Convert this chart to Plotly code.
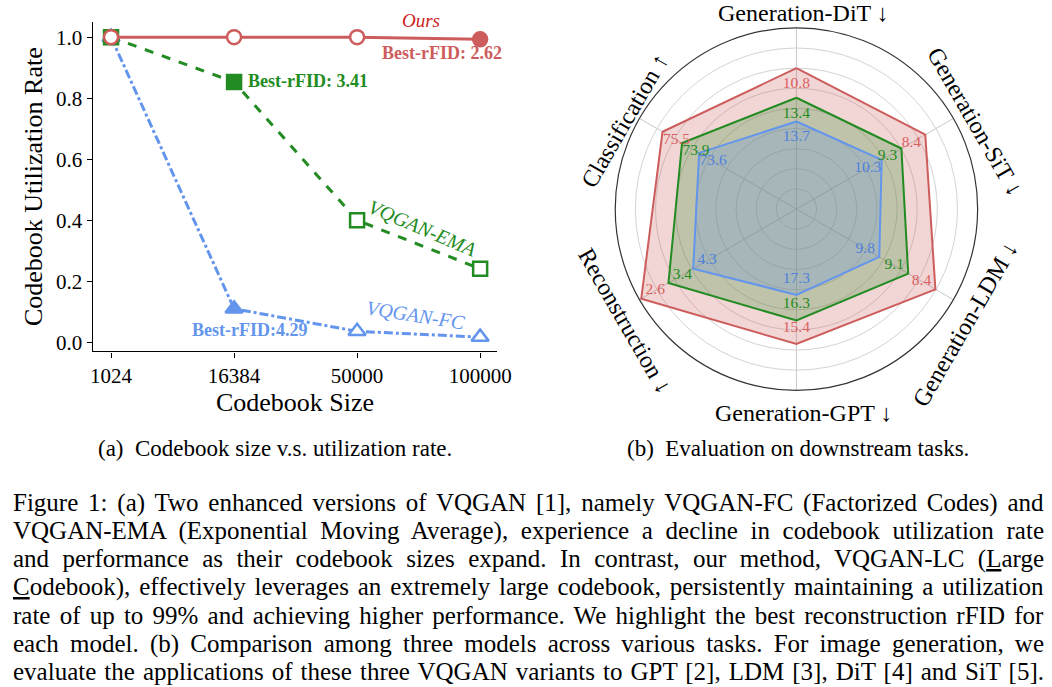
import json
import plotly.graph_objects as go

W, H = 1052, 687

# ---------------- data: (a) codebook utilisation ----------------
codebook_sizes = ["1024", "16384", "50000", "100000"]
util_ours = [1.0, 1.0, 1.0, 0.993]
util_ema = [1.0, 0.853, 0.40, 0.241]
util_fc = [1.0, 0.11, 0.036, 0.017]
yticks = [0.0, 0.2, 0.4, 0.6, 0.8, 1.0]

# ---------------- data: (b) radar ----------------
tasks = ["Generation-DiT ↓", "Generation-SiT ↓", "Generation-LDM ↓",
         "Generation-GPT ↓", "Reconstruction ↓", "Classification ↑"]
score_ours = [7.0, 7.39, 7.97, 6.70, 8.90, 7.68]
score_ema = [5.53, 6.02, 6.41, 5.53, 7.34, 6.56]
score_fc = [4.35, 4.89, 4.75, 4.26, 5.92, 5.58]
label_ours = ["10.8", "8.4", "8.4", "15.4", "2.6", "75.5"]
label_ema = ["13.4", "9.3", "9.1", "16.3", "3.4", "73.9"]
label_fc = ["13.7", "10.3", "9.8", "17.3", "4.3", "73.6"]

RED = "#cd5c5c"
GREEN = "#228b22"
BLUE = "#6495ed"
SERIF = "Liberation Serif, Times New Roman, serif"


def px(x):
    return x / W


def py(y):
    return 1 - y / H


fig = go.Figure()

# ---- left panel ----
fig.add_trace(go.Scatter(
    x=codebook_sizes, y=util_fc, mode="lines+markers",
    line=dict(color=BLUE, width=3, dash="dashdot"),
    marker=dict(symbol="triangle-up", size=15,
                color=["white", BLUE, "white", "white"],
                line=dict(color=BLUE, width=2.5)),
    xaxis="x", yaxis="y", showlegend=False, hoverinfo="skip"))
fig.add_trace(go.Scatter(
    x=codebook_sizes, y=util_ema, mode="lines+markers",
    line=dict(color=GREEN, width=3, dash="dash"),
    marker=dict(symbol="square", size=14,
                color=[GREEN, GREEN, "white", "white"],
                line=dict(color=GREEN, width=2.5)),
    xaxis="x", yaxis="y", showlegend=False, hoverinfo="skip"))
fig.add_trace(go.Scatter(
    x=codebook_sizes, y=util_ours, mode="lines+markers",
    line=dict(color=RED, width=3),
    marker=dict(symbol="circle", size=14,
                color=["white", "white", "white", RED],
                line=dict(color=RED, width=2.5)),
    xaxis="x", yaxis="y", showlegend=False, hoverinfo="skip"))

# ---- right panel: radar ----
def closed(v):
    return list(v) + [v[0]]


for scores, col, fill in [
        (score_ours, RED, "rgba(205,92,92,0.25)"),
        (score_ema, GREEN, "rgba(34,139,34,0.25)"),
        (score_fc, BLUE, "rgba(100,149,237,0.25)")]:
    fig.add_trace(go.Scatterpolar(
        r=closed(scores), theta=closed(tasks), mode="lines",
        line=dict(color=col, width=2), fill="toself", fillcolor=fill,
        showlegend=False, hoverinfo="skip"))
for scores, labels, col in [(score_ours, label_ours, "#d9605f"),
                            (score_ema, label_ema, GREEN),
                            (score_fc, label_fc, "#4f7fdb")]:
    fig.add_trace(go.Scatterpolar(
        r=[s - 0.8 for s in scores], theta=tasks, mode="text",
        text=labels, textfont=dict(family=SERIF, size=15.5, color=col),
        showlegend=False, hoverinfo="skip"))

annotations = []


def ann(x, y, text, size, color="black", angle=0, xanchor="center", align="center"):
    annotations.append(dict(
        x=px(x), y=py(y), xref="paper", yref="paper", text=text,
        showarrow=False, textangle=angle, xanchor=xanchor, yanchor="middle",
        align=align, font=dict(family=SERIF, size=size, color=color)))


# left panel annotations
ann(425, 21, "<i>Ours</i>", 19, "#cc2222")
ann(447, 53, "<b>Best-rFID: 2.62</b>", 18, RED)
ann(248, 81, "<b>Best-rFID: 3.41</b>", 18, GREEN, xanchor="left")
ann(427, 229, "<i>VQGAN-EMA</i>", 20, GREEN, angle=23)
ann(420, 316, "<i>VQGAN-FC</i>", 20, BLUE, angle=9)
ann(251, 331, "<b>Best-rFID:4.29</b>", 18, BLUE)

# radar axis labels
ann(814, 13, tasks[0], 24)
ann(988, 123, tasks[1], 24, angle=60)
ann(978, 325, tasks[2], 24, angle=-60)
ann(814, 415, tasks[3], 24)
ann(633, 322, tasks[4], 24, angle=60)
ann(633, 121, tasks[5], 24, angle=-60)

# sub captions
ann(277, 450, "(a)  Codebook size v.s. utilization rate.", 23)
ann(808, 450, "(b)  Evaluation on downstream tasks.", 23)

caption_lines = [
    "Figure 1: (a) Two enhanced versions of VQGAN [1], namely VQGAN-FC (Factorized Codes) and",
    "VQGAN-EMA (Exponential Moving Average), experience a decline in codebook utilization rate",
    "and performance as their codebook sizes expand. In contrast, our method, VQGAN-LC (<u>L</u>arge",
    "<u>C</u>odebook), effectively leverages an extremely large codebook, persistently maintaining a utilization",
    "rate of up to 99% and achieving higher performance. We highlight the best reconstruction rFID for",
    "each model. (b) Comparison among three models across various tasks. For image generation, we",
    "evaluate the applications of these three VQGAN variants to GPT [2], LDM [3], DiT [4] and SiT [5].",
]
for i, line in enumerate(caption_lines):
    ann(9, 505 + i * 28.3, line, 25, xanchor="left", align="left")

fig.update_layout(
    width=W, height=H, margin=dict(l=0, r=0, t=0, b=0),
    paper_bgcolor="white", plot_bgcolor="white",
    font=dict(family=SERIF, color="black"),
    xaxis=dict(domain=[px(92), px(503)], range=[-0.15, 3.14], type="category",
               showline=True, linecolor="black", linewidth=1.2,
               ticks="outside", ticklen=5, tickcolor="black",
               tickfont=dict(size=21), showgrid=False, zeroline=False,
               title=dict(text="Codebook Size", font=dict(size=26), standoff=2),
               anchor="y"),
    yaxis=dict(domain=[py(353), py(22)], range=[-0.03, 1.05],
               tickvals=yticks, tickformat=".1f",
               showline=True, linecolor="black", linewidth=1.2,
               ticks="outside", ticklen=5, tickcolor="black",
               tickfont=dict(size=21), showgrid=False, zeroline=False,
               title=dict(text="Codebook Utilization Rate", font=dict(size=26), standoff=5),
               anchor="x"),
    polar=dict(
        domain=dict(x=[px(622.7), px(990.7)], y=[py(394), py(26)]),
        bgcolor="white",
        radialaxis=dict(range=[0, 9], dtick=1, showticklabels=False, ticks="",
                        showline=False, gridcolor="#d4d4d4", gridwidth=1),
        angularaxis=dict(rotation=90, direction="clockwise", showticklabels=False,
                         ticks="", showline=True, linecolor="#333333", linewidth=1.2,
                         gridcolor="#c8c8c8", gridwidth=1,
                         categoryorder="array", categoryarray=tasks)),
    annotations=annotations,
)

post = """
document.body.style.margin = '0px';
document.body.style.overflow = 'hidden';
document.documentElement.style.overflow = 'hidden';
var CAPLINES = %s;
var TARGET = 1031;
function justifyCaption() {
  var els = document.querySelectorAll('text.annotation-text');
  els.forEach(function (el) {
    var u = el.getAttribute('data-unformatted');
    if (CAPLINES.indexOf(u) < 0) return;
    el.style.wordSpacing = '0px';
    var w = el.getBBox().width;
    var n = (el.textContent.match(/ /g) || []).length;
    if (n > 0 && w < TARGET) el.style.wordSpacing = ((TARGET - w) / n) + 'px';
  });
}
justifyCaption();
setTimeout(justifyCaption, 50);
""" % json.dumps(caption_lines)

fig.write_html("out.html", post_script=post, config={"displayModeBar": False})
